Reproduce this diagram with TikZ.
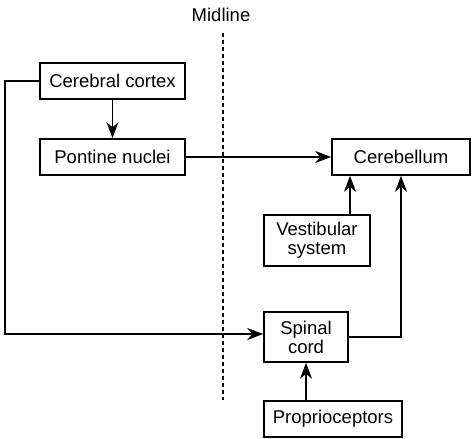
\documentclass[tikz,border=0pt]{standalone}
\usepackage{fontspec}
\setmainfont{Liberation Sans}
\usetikzlibrary{arrows.meta}

\tikzset{%
  % Specifications for style of nodes:
         box/.style = {rectangle, draw = black, line width=1.6pt, inner sep=0pt, align=center, font=\fontsize{18.5}{19}\selectfont},
  % Specifications for style of arrows:
        flow/.style = {line width=1.7pt, -{Stealth[length=16pt,width=12pt,inset=5pt]}},
}

\begin{document}
\begin{tikzpicture}[x=1pt, y=-1pt]
    \useasboundingbox (0,0) rectangle (474,439);

    % Draw nodes
    \node (cortex)   [box, minimum width=145pt, minimum height=36pt] at (112.5,81)  {Cerebral cortex};
    \node (pontine)  [box, minimum width=145pt, minimum height=36pt] at (112.5,157) {Pontine nuclei};
    \node (cereb)    [box, minimum width=138pt, minimum height=36pt] at (401,157)   {Cerebellum};
    \node (vest)     [box, minimum width=106pt, minimum height=51pt] at (317,240.5) {Vestibular\\system};
    \node (spinal)   [box, minimum width=84pt,  minimum height=50pt] at (306,337)   {Spinal\\cord};
    \node (proprio)  [box, minimum width=138pt, minimum height=36pt] at (333,419)   {Proprioceptors};

    % Midline
    \node (midtext)  [font=\fontsize{18.5}{19}\selectfont] at (221,15) {Midline};
    \draw[line width=1.5pt, dash pattern=on 4pt off 3pt] (223,33) -- (223,400);

    % Draw arrows
    \coordinate (left) at (5,0);
    \coordinate (vtop) at ([xshift=33pt]vest.north);

    \draw[flow]           (cortex) -- (pontine);
    \draw[flow]          (pontine) -- (cereb);
    \draw[flow]             (vtop) -- (vtop |- cereb.south);
    \draw[flow]      (spinal.east) -| (cereb.south);
    \draw[flow]    (proprio.north -| spinal.south) -- (spinal.south);
    \draw[flow]      (cortex.west) -- (cortex.west -| left) |- ([yshift=3pt]spinal.west);

\end{tikzpicture}
\end{document}
